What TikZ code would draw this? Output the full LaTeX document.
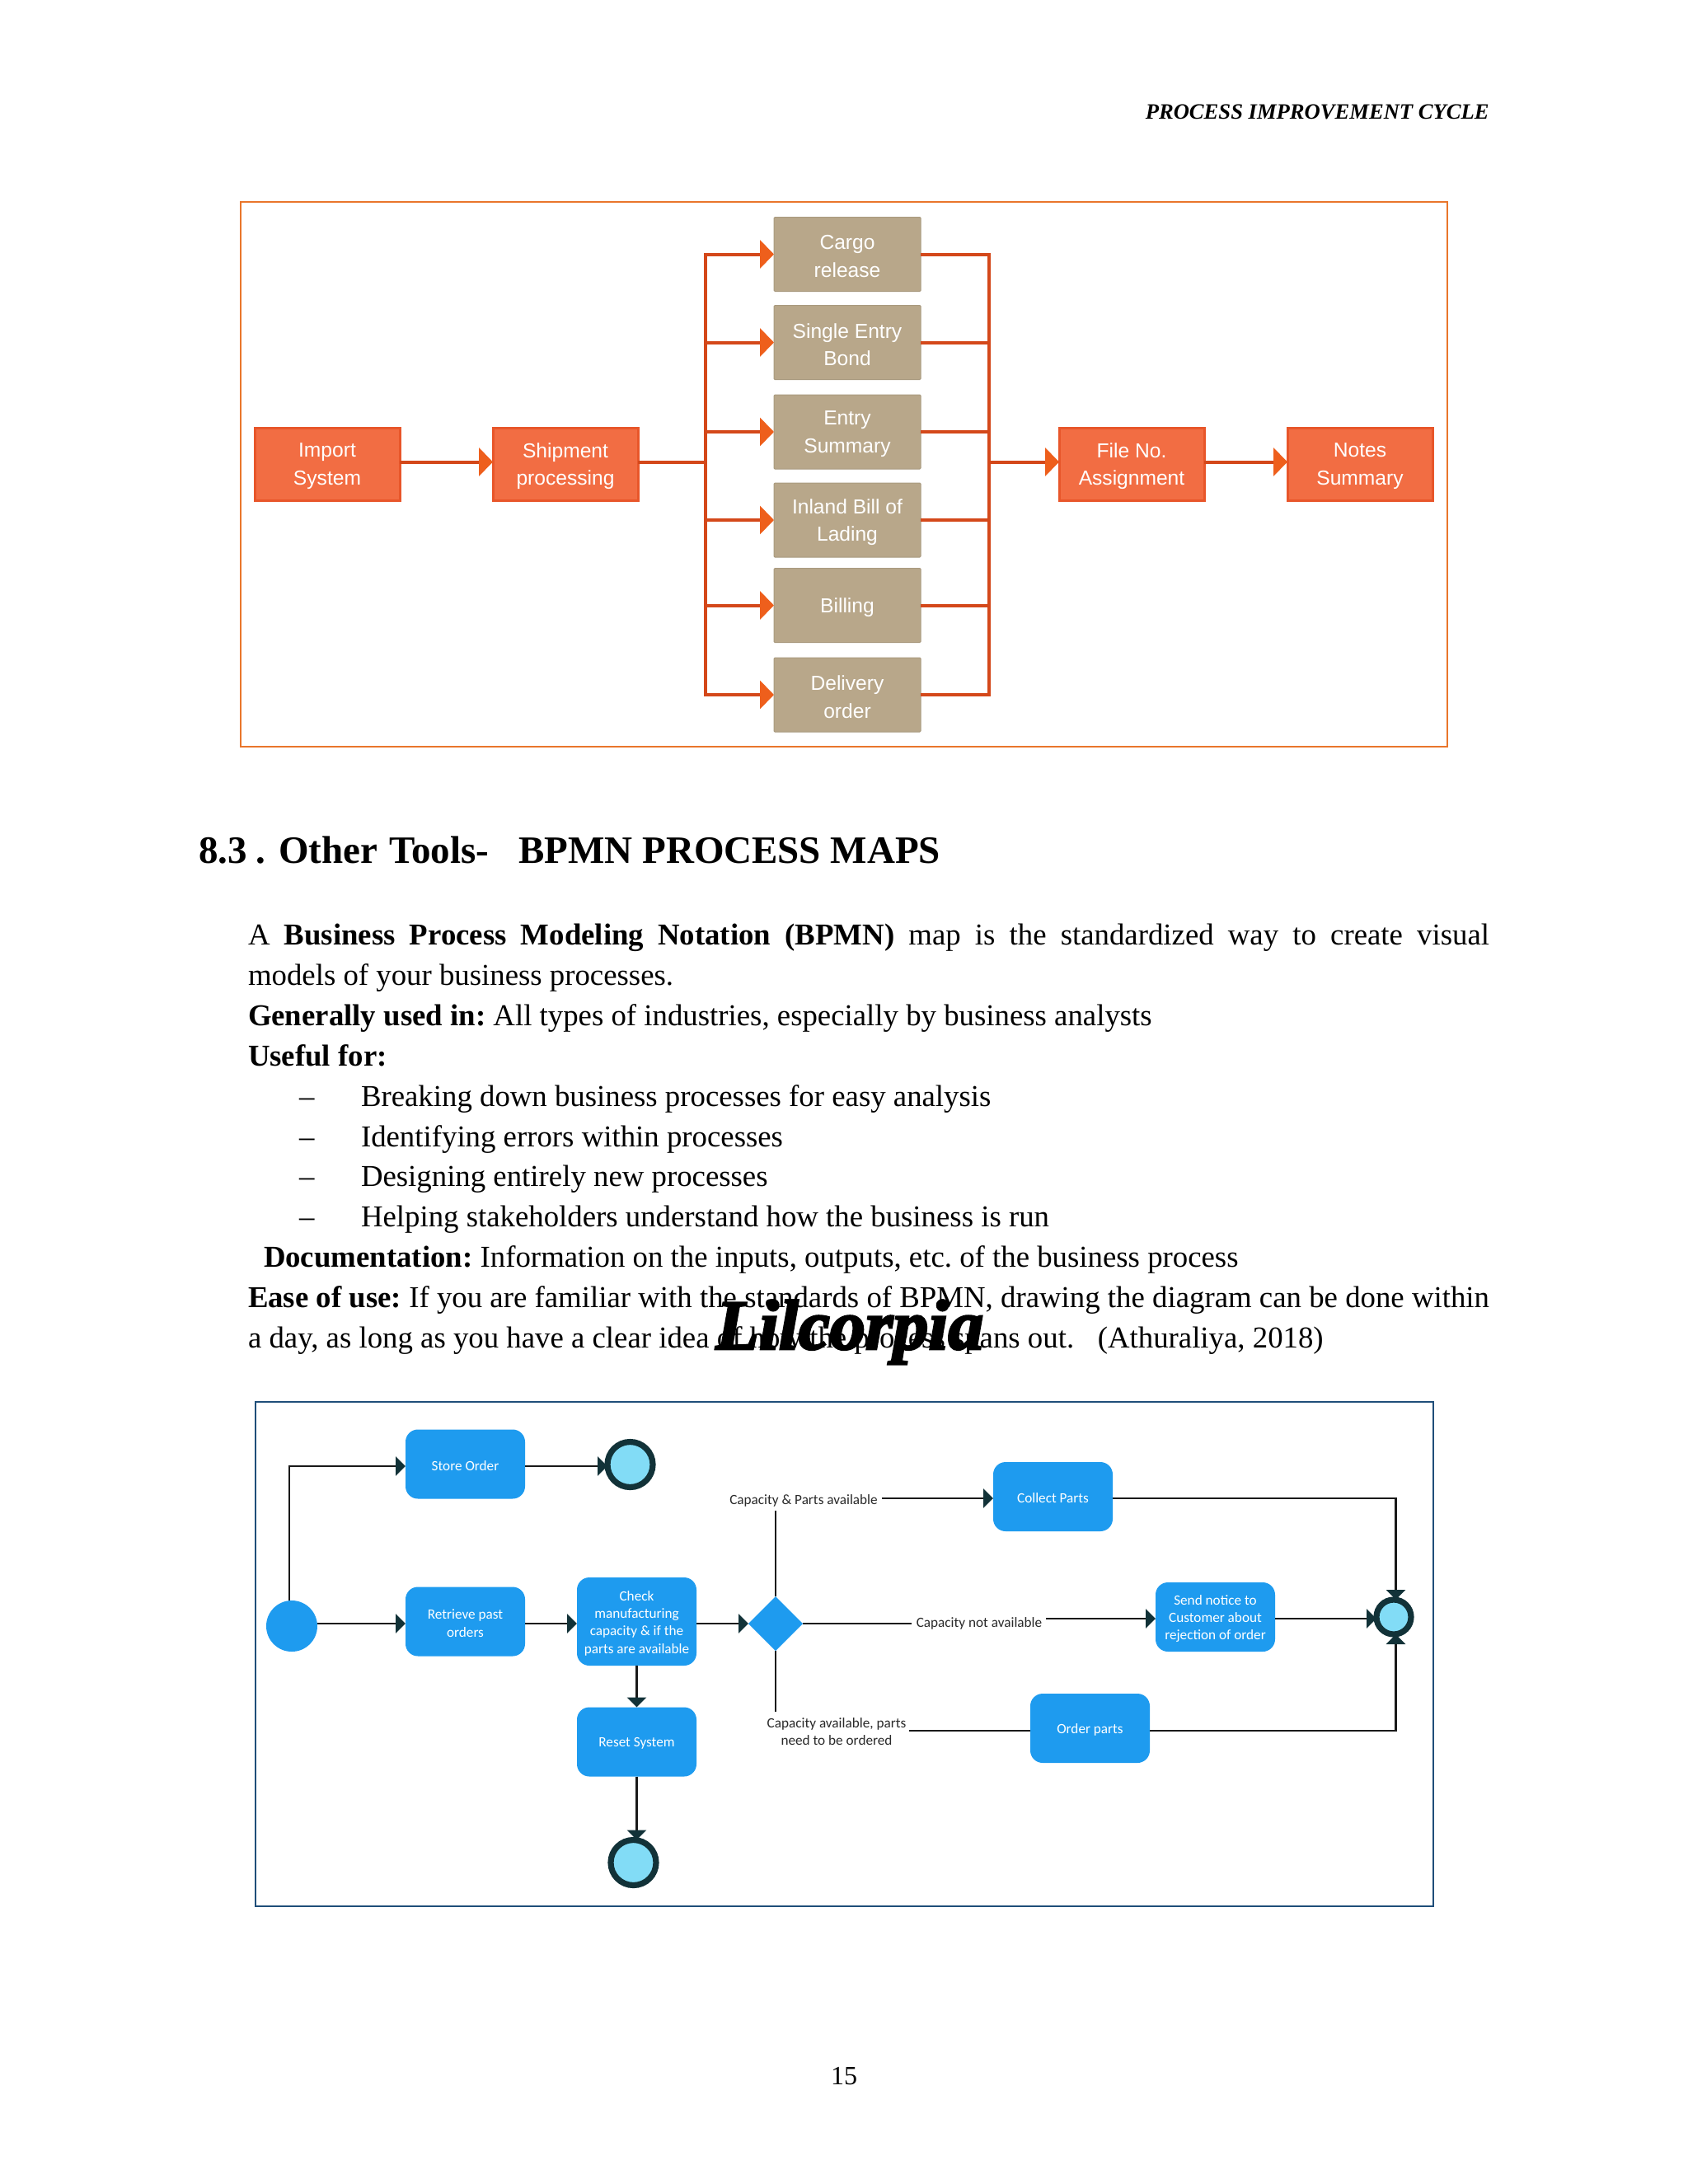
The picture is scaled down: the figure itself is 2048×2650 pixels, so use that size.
\documentclass[tikz,border=0pt]{standalone}
\usepackage{fontspec}
\setmainfont{Liberation Serif}
\newfontfamily\diagsans{Liberation Sans}
\newfontfamily\bpmnsans{Carlito}
\newfontfamily\wmfont[FakeBold=3]{Liberation Serif Bold Italic}
\usetikzlibrary{arrows.meta,shapes.geometric,calc}
\definecolor{orfill}{HTML}{F26D43}
\definecolor{orline}{HTML}{E8562A}
\definecolor{brfill}{HTML}{B8A78A}
\definecolor{connor}{HTML}{D4481A}
\definecolor{tipor}{HTML}{EE5F1C}
\definecolor{frameor}{HTML}{E9762B}
\definecolor{blfill}{HTML}{1E9BEF}
\definecolor{framebl}{HTML}{1F4E79}
\definecolor{ring}{HTML}{123238}
\definecolor{endfill}{HTML}{82DCF6}
\definecolor{lab}{HTML}{2A2A2A}
\tikzset{
  x=0.5pt,y=-0.5pt,
  toptext/.style={inner sep=0pt,outer sep=0pt,yshift=-1.3pt,label distance=0pt,align=center,text=white,font=\diagsans\fontsize{12.3}{16.6}\selectfont},
  tasktext/.style={inner sep=0pt,outer sep=0pt,yshift=-1pt,label distance=0pt,align=center,text=white,font=\bpmnsans\fontsize{8.6}{10.7}\selectfont},
  procbox/.style={rectangle,fill=orfill,draw=orline,line width=1.5pt,minimum width=88pt,minimum height=44pt,inner sep=0pt,outer sep=0pt,label={[toptext]center:#1}},
  docbox/.style={rectangle,rounded corners=0.6pt,fill=brfill,draw=brfill!92!black,line width=0.5pt,minimum width=89pt,minimum height=45pt,inner sep=0pt,outer sep=0pt,label={[toptext]center:#1}},
  orconn/.style={draw=connor,line width=2pt},
  orarrow/.style={orconn,-{Triangle[length=8.5pt,width=17pt,fill=tipor,color=tipor]}},
  task/.style={rectangle,rounded corners=7.5pt,fill=blfill,minimum width=72.5pt,minimum height=42pt,inner sep=0pt,outer sep=0pt,label={[tasktext]center:#1}},
  bconn/.style={draw=black!90,line width=1.4pt},
  barrow/.style={bconn,-{Triangle[length=6pt,width=11.5pt,fill=ring,color=ring]}},
  endev/.style={circle,fill=endfill,draw=ring,line width=3.6pt,minimum size=27.5pt,inner sep=0pt,outer sep=0pt},
  lbl/.style={inner sep=0pt,outer sep=0pt,align=center,text=lab,font=\bpmnsans\fontsize{8.6}{10.7}\selectfont},
  bodyline/.style={anchor=base west,inner sep=0pt,outer sep=0pt,font=\fontsize{18.4}{24}\selectfont\frenchspacing},
}
\newcommand{\fillline}[1]{\makebox[753pt][s]{#1}}
\begin{document}
\begin{tikzpicture}
\useasboundingbox (0,0) rectangle (2048,2650);
\fill[white] (0,0) rectangle (2048,2650);
% header
\node[anchor=base east,inner sep=0pt,font=\fontsize{13.3}{16}\selectfont\bfseries\itshape] (hdr) at (1807,144) {PROCESS IMPROVEMENT CYCLE};
% top frame
\node[draw=frameor,line width=1.2pt,minimum width=732pt,minimum height=330.5pt,inner sep=0pt,outer sep=0pt] (frameA) at (1024,575.5) {};
\node[procbox={Import\\System}] (imp) at (397,563) {};
\node[procbox={Shipment\\processing}] (ship) at (686,563) {};
\node[procbox={File No.\\Assignment}] (file) at (1373,563) {};
\node[procbox={Notes\\Summary}] (notes) at (1650,563) {};
\node[docbox={Cargo\\release}] (d1) at (1028,308.5) {};
\node[docbox={Single Entry\\Bond}] (d2) at (1028,415.5) {};
\node[docbox={Entry\\Summary}] (d3) at (1028,524) {};
\node[docbox={Inland Bill of\\Lading}] (d4) at (1028,631) {};
\node[docbox={Billing}] (d5) at (1028,734.5) {};
\node[docbox={Delivery\\order}] (d6) at (1028,843) {};
\coordinate (rowmain) at (0,560.5);
\coordinate (busL) at (856,560.5);
\coordinate (busR) at (1200,560.5);
\draw[orarrow] (imp.east |- rowmain) -- (ship.west |- rowmain);
\draw[orconn] (ship.east |- rowmain) -- (busL);
\draw[orarrow] (busR) -- (file.west |- rowmain);
\draw[orarrow] (file.east |- rowmain) -- (notes.west |- rowmain);
\foreach \n in {d1,d2,d3,d4,d5,d6}{
  \draw[orarrow] (busL) -- (busL |- \n.west) -- (\n.west);
  \draw[orconn] (\n.east) -- (busR |- \n.east) -- (busR);
}
% heading
\node[anchor=base west,inner sep=0pt,font=\fontsize{23.5}{26}\selectfont\bfseries] (head) at (241,1047) {8.3\,\kern1.5pt. Other\kern1pt{} Tools-\hspace{18pt}BPMN PROCESS MAPS};
% body
\node[bodyline] (l1) at (301,1146.5) {\fillline{A \textbf{Business Process Modeling Notation (BPMN)} map is the standardized way to create visual}};
\node[bodyline] (l2) at (301,1195.5) {models of your business processes.};
\node[bodyline] (l3) at (301,1244.5) {\textbf{Generally used in:} All types of industries, especially by business analysts};
\node[bodyline] (l4) at (301,1293.5) {\textbf{Useful for:}};
\node[bodyline] (b1) at (363,1342.5) {\makebox[37.5pt][l]{\textendash}Breaking down business processes for easy analysis};
\node[bodyline] (b2) at (363,1391.5) {\makebox[37.5pt][l]{\textendash}Identifying errors within processes};
\node[bodyline] (b3) at (363,1439) {\makebox[37.5pt][l]{\textendash}Designing entirely new processes};
\node[bodyline] (b4) at (363,1488) {\makebox[37.5pt][l]{\textendash}Helping stakeholders understand how the business is run};
\node[bodyline] (l9) at (320,1537.5) {\textbf{Documentation:} Information on the inputs, outputs, etc. of the business process};
\node[bodyline] (l10) at (301,1586) {\fillline{\textbf{Ease of use:} If you are familiar with the standards of BPMN, drawing the diagram can be done within}};
\node[bodyline] (l11) at (301,1635) {a day, as long as you have a clear idea of how the process spans out.\hspace{14.3pt}(Athuraliya, 2018)};
\node[anchor=base west,inner sep=0pt,font=\wmfont\fontsize{43}{50}\selectfont] (wm) at (868,1637) {Lilcorpia};
% bottom frame
\node[draw=framebl,line width=1.1pt,minimum width=714.5pt,minimum height=306pt,inner sep=0pt,outer sep=0pt] (frameB) at (1024.5,2007) {};
\node[task={Store Order}] (store) at (564.5,1776.5) {};
\node[task={Retrieve past\\orders}] (retr) at (564.5,1967.5) {};
\node[task={Check\\manufacturing\\capacity \& if the\\parts are available},minimum height=53.5pt] (check) at (772.5,1967.5) {};
\node[task={Reset System}] (reset) at (772.5,2113.5) {};
\node[task={Collect Parts}] (coll) at (1277.5,1816) {};
\node[task={Send notice to\\Customer about\\rejection of order}] (send) at (1474.5,1962) {};
\node[task={Order parts}] (ord) at (1322.5,2097) {};
\node[circle,fill=blfill,minimum size=31pt,inner sep=0pt,outer sep=0pt] (start) at (354,1973) {};
\node[diamond,fill=blfill,minimum width=33pt,minimum height=33pt,inner sep=0pt,outer sep=0pt] (gate) at (941,1970) {};
\node[endev] (e1) at (764.5,1777) {};
\node[endev] (e2) at (768.5,2260) {};
\node[endev,minimum size=21pt,line width=3.6pt] (e3) at (1691,1962) {};
\node[lbl,anchor=base] (lA) at (975,1825) {Capacity \& Parts available};
\node[lbl,anchor=base] (lB) at (1188,1974) {Capacity not available};
\node[lbl] (lC) at (1015,2101) {Capacity available, parts\\need to be ordered};
\coordinate (row1) at (0,1779);
\coordinate (row2) at (0,1970);
\coordinate (trunk) at (351,1779);
\coordinate (rowA) at (0,1818);
\coordinate (rowB) at (0,1964);
\coordinate (rowC) at (0,2100);
\coordinate (endx) at (1693.5,1900);
\coordinate (gtopend) at (941,1833);
\coordinate (gbotend) at (941,2077);
\draw[barrow] (start.north -| trunk) -- (trunk) -- (store.west |- row1);
\draw[barrow] (store.east |- row1) -- (e1.west |- row1);
\draw[barrow] (start.east |- row2) -- (retr.west |- row2);
\draw[barrow] (retr.east |- row2) -- (check.west |- row2);
\draw[barrow] (check.east |- row2) -- (gate.west);
\draw[barrow] (check.south) -- (reset.north);
\draw[barrow] (reset.south) -- (e2.north -| reset.south);
\draw[bconn] (gate.north) -- (gtopend);
\draw[bconn] (gate.south) -- (gbotend);
\draw[bconn] (gate.east) -- ([xshift=-3pt]lB.west |- gate.east);
\draw[barrow] ([xshift=2.5pt]lA.east |- rowA) -- (coll.west |- rowA);
\draw[barrow] ([xshift=2.5pt]lB.east |- rowB) -- (send.west |- rowB);
\draw[bconn] ([xshift=2pt]lC.east |- rowC) -- (ord.west |- rowC);
\draw[barrow] (coll.east |- rowA) -- (endx |- rowA) -- (endx |- e3.north);
\draw[barrow] (send.east |- rowB) -- (e3.west |- rowB);
\draw[barrow] (ord.east |- rowC) -- (endx |- rowC) -- (endx |- e3.south);
% page number
\node[anchor=base,inner sep=0pt,font=\fontsize{16}{18}\selectfont] (pg) at (1024,2529) {15};
\end{tikzpicture}
\end{document}
